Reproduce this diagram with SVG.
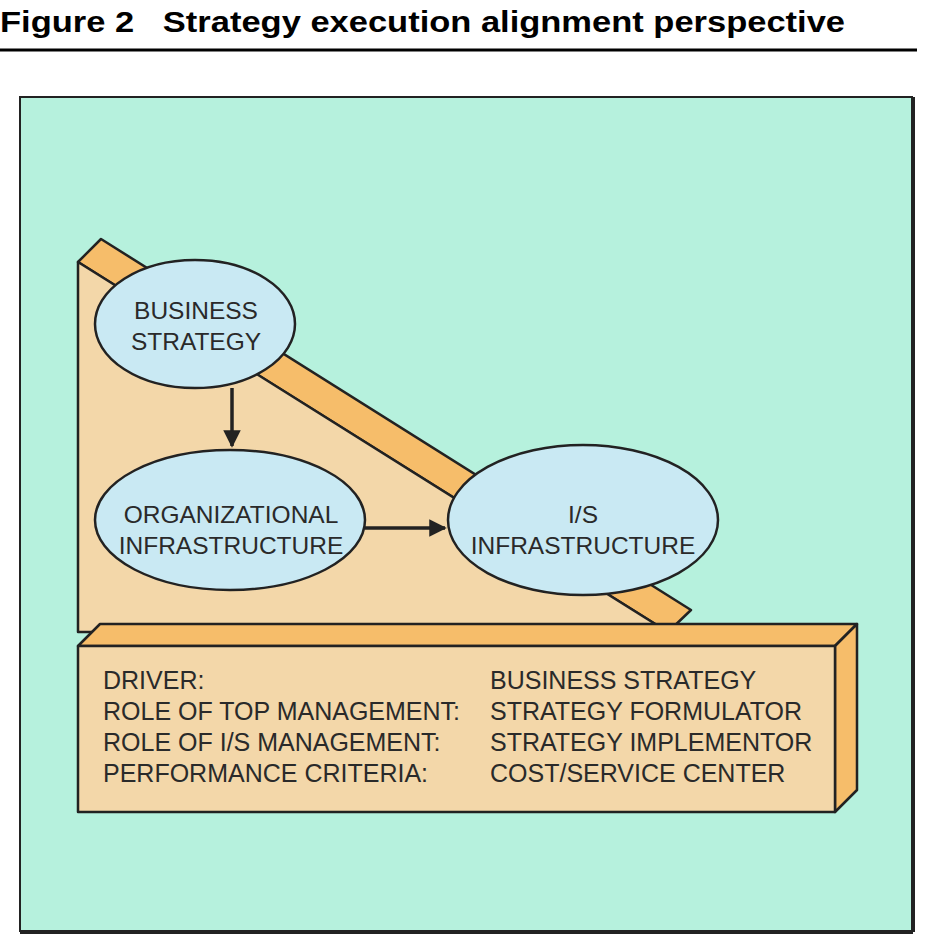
<svg xmlns="http://www.w3.org/2000/svg" width="925" height="937" viewBox="0 0 925 937">
<style>
.t{font-family:"Liberation Sans",Arial,sans-serif;fill:#2a2a2a}
.n{font-size:24.5px;text-anchor:middle}
.b{font-size:25px}
.e{fill:#c9e9f3;stroke:#222;stroke-width:2.5}
.o{fill:#f6bd6a;stroke:#222;stroke-width:2.5;stroke-linejoin:round}
.f{fill:#f3d7a9;stroke:#222;stroke-width:2.5;stroke-linejoin:round}
</style>
<defs><marker id="a" viewBox="0 0 10 10" refX="9" refY="5" markerWidth="5" markerHeight="5" orient="auto"><path d="M0,0L10,5L0,10z" fill="#222"/></marker></defs>
<rect width="925" height="937" fill="#fff"/>
<text x="0" y="32" style="font-family:'Liberation Sans',Arial,sans-serif;font-weight:bold;font-size:30px" fill="#000" textLength="845" lengthAdjust="spacingAndGlyphs" xml:space="preserve">Figure 2   Strategy execution alignment perspective</text>
<line x1="0" y1="50" x2="917" y2="50" stroke="#000" stroke-width="3"/>
<rect x="20" y="97" width="892" height="834" fill="#b6f1dd" stroke="#222" stroke-width="2"/>
<line x1="913" y1="97" x2="913" y2="932" stroke="#222" stroke-width="4"/>
<line x1="20" y1="932" x2="913" y2="932" stroke="#222" stroke-width="4"/>
<g id="wedge">
<polygon class="o" points="78,262 101,239 691,610 668,632"/>
<polygon class="f" points="78,262 668,632 78,632"/>
</g>
<g id="box">
<polygon class="o" points="78,646 100,624 857,624 835,646"/>
<polygon class="o" points="835,646 857,624 857,790 835,812"/>
<rect class="f" x="78" y="646" width="757" height="166"/>
<text class="t b" x="103" y="689">DRIVER:</text>
<text class="t b" x="103" y="720">ROLE OF TOP MANAGEMENT:</text>
<text class="t b" x="103" y="751">ROLE OF I/S MANAGEMENT:</text>
<text class="t b" x="103" y="782">PERFORMANCE CRITERIA:</text>
<text class="t b" x="490" y="689">BUSINESS STRATEGY</text>
<text class="t b" x="490" y="720">STRATEGY FORMULATOR</text>
<text class="t b" x="490" y="751">STRATEGY IMPLEMENTOR</text>
<text class="t b" x="490" y="782">COST/SERVICE CENTER</text>
</g>
<g id="connectors" stroke="#222" stroke-width="3.5" marker-end="url(#a)">
<line x1="232" y1="388" x2="232" y2="446"/>
<line x1="365" y1="528" x2="445" y2="528"/>
</g>
<g id="business">
<ellipse class="e" cx="195" cy="324" rx="100" ry="64"/>
<text class="t n" x="196" y="319">BUSINESS</text>
<text class="t n" x="196" y="350">STRATEGY</text>
</g>
<g id="org">
<ellipse class="e" cx="230" cy="520" rx="135" ry="70"/>
<text class="t n" x="231" y="523">ORGANIZATIONAL</text>
<text class="t n" x="231" y="554">INFRASTRUCTURE</text>
</g>
<g id="is">
<ellipse class="e" cx="583" cy="520" rx="135" ry="75"/>
<text class="t n" x="583" y="523">I/S</text>
<text class="t n" x="583" y="554">INFRASTRUCTURE</text>
</g>
</svg>
